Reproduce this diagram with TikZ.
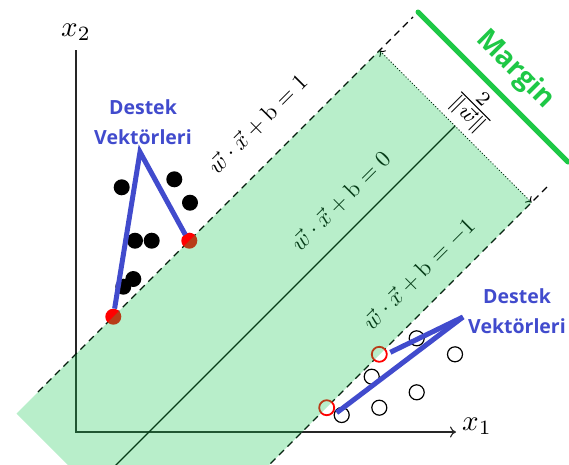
\RequirePackage{fix-cm}
\documentclass[tikz,border=0pt]{standalone}
\usepackage{graphicx}
\usepackage{fontspec}
\newfontfamily\labfont{Open Sans}
\usetikzlibrary{arrows.meta}
\definecolor{bandgreen}{RGB}{20,200,80}
\definecolor{svblue}{RGB}{65,75,205}
\definecolor{margreen}{RGB}{30,200,70}
\newcommand{\eqtext}[1]{\scalebox{2.3}{$\vec{w}\cdot\vec{x}+\mathrm{b}=#1$}}
\begin{document}
\begin{tikzpicture}[x=1pt,y=-1pt,
  posdot/.style={circle,fill=black,minimum size=16pt,inner sep=0pt},
  svposdot/.style={circle,fill=red,minimum size=16pt,inner sep=0pt},
  negdot/.style={circle,draw=black,fill=white,line width=1.2pt,minimum size=15pt,inner sep=0pt},
  svnegdot/.style={circle,draw=red,fill=white,line width=1.8pt,minimum size=15pt,inner sep=0pt},
  axisline/.style={line width=1.1pt,black!85},
  margline/.style={line width=1.1pt,dash pattern=on 7pt off 5pt},
  eqlabel/.style={rotate=45,inner sep=0pt},
  axlabel/.style={inner sep=0pt},
  svline/.style={svblue,line width=5pt},
  svtext/.style={text=svblue,font=\labfont\bfseries\fontsize{19.5}{30}\selectfont,align=center,inner sep=0pt}
]
\useasboundingbox (0,0) rectangle (569,464);
\clip (0,0) rectangle (569,464);

% axes
\coordinate (o) at (76,432);
\coordinate (yt) at (76,50);
\coordinate (xt) at (456,432);
\draw[axisline,-{To[length=6pt,width=11pt]}] (yt) -- (o) -- (xt);
\node[axlabel] (x2) at (76,32) {\scalebox{2.9}{$x_2$}};
\node[axlabel] (x1) at (477,426) {\scalebox{2.9}{$x_1$}};

% hyperplanes
\coordinate (u1) at (38,392);
\coordinate (u2) at (413,17);
\coordinate (m1) at (110,471);
\coordinate (m2) at (455,126);
\coordinate (l1) at (262,472);
\coordinate (l2) at (550,184);
\draw[margline] (u1) -- (u2);
\draw[line width=1.1pt] (m1) -- (m2);
\draw[margline] (l1) -- (l2);

\coordinate (mt) at (379.5,50.5);
\coordinate (mb) at (531.5,202.5);
\draw[line width=1pt,dotted,{To[length=5pt,width=9pt]}-{To[length=5pt,width=9pt]}] (mt) -- (mb);
\node[rotate=-45,inner sep=0pt] (frac) at (474,108) {\scalebox{2.9}{$\frac{2}{\|\vec{w}\|}$}};

\node[eqlabel] (eq1) at (258,124) {\eqtext{1}};
\node[eqlabel] (eq0) at (341,201) {\eqtext{0}};
\node[eqlabel] (eqm) at (419,274) {\eqtext{-1}};

% positive class
\node[posdot] (p1) at (121.7,187.3) {};
\node[posdot] (p2) at (174.3,179.3) {};
\node[posdot] (p3) at (190,202.7) {};
\node[posdot] (p4) at (135,240.7) {};
\node[posdot] (p5) at (151.7,240.7) {};
\node[posdot] (p7) at (123.3,286.7) {};
\node[posdot] (p6) at (133.3,279) {};
\node[svposdot] (sv1) at (113.3,316.7) {};
\node[svposdot] (sv2) at (189.3,240.7) {};

% negative class
\node[negdot] (n1) at (416.7,338.3) {};
\node[negdot] (n2) at (455,354.3) {};
\node[negdot] (n3) at (371.7,376.7) {};
\node[negdot] (n4) at (416.7,392.3) {};
\node[negdot] (n5) at (379.3,407.7) {};
\node[negdot] (n6) at (341.7,415) {};
\node[svnegdot] (sv3) at (379.3,354.3) {};
\node[svnegdot] (sv4) at (326.7,407.7) {};

% support vector pointers
\coordinate (a1) at (140,152);
\draw[svline] (sv1) -- (a1) -- ([shift={(-4pt,6pt)}]sv2.center);
\coordinate (a2) at (463,317);
\draw[svline] (a2) -- ([shift={(11pt,2pt)}]sv3.center);
\draw[svline] (a2) -- ([shift={(10pt,-5pt)}]sv4.center);
\node[svtext] (t1) at (143,122) {Destek\\Vektörleri};
\node[svtext] (t2) at (517,311) {Destek\\Vektörleri};

% margin band (drawn over)
\fill[bandgreen,opacity=0.3] (16.5,413.5) -- (mt) -- (mb) -- (168.5,565.5) -- cycle;

% margin marker
\coordinate (g1) at (418,12);
\coordinate (g2) at (568,162);
\draw[margreen,line width=5pt,line cap=round] (g1) -- (g2);
\node[text=margreen,font=\labfont\bfseries\fontsize{28}{30}\selectfont,rotate=-45,inner sep=0pt] (mg) at (515,70) {Margin};
\end{tikzpicture}
\end{document}
